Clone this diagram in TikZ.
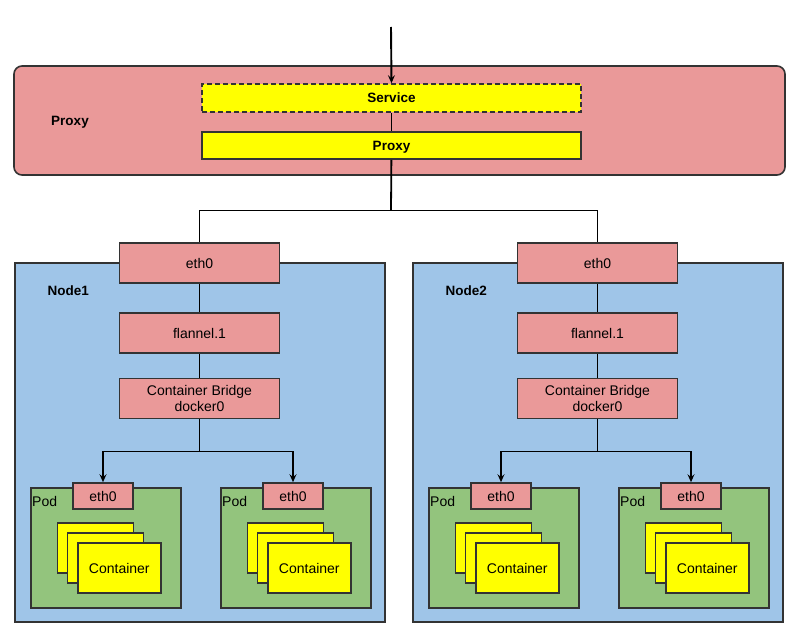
\documentclass[tikz,border=0pt]{standalone}
\usepackage{fontspec}
\setmainfont{Liberation Sans}
\usetikzlibrary{arrows.meta,positioning}

\definecolor{pinkfill}{HTML}{EA9999}
\definecolor{bluefill}{HTML}{9FC5E8}
\definecolor{greenfill}{HTML}{93C47D}
\definecolor{yellowfill}{HTML}{FFFF00}
\definecolor{edgegray}{HTML}{333333}

\begin{document}
\begin{tikzpicture}[
        x=1pt, y=-1pt,
        font=\fontsize{14}{16}\selectfont,
        boldlabel/.style={font=\fontsize{13.5}{16}\selectfont\bfseries},
        frame/.style={draw=edgegray, line width=1.6pt, inner sep=0pt},
        iface/.style={frame, fill=pinkfill, minimum width=160pt, minimum height=40pt, align=center},
        ybar/.style={frame, fill=yellowfill, minimum width=379pt, minimum height=27pt, boldlabel},
        host/.style={frame, fill=bluefill, minimum width=370pt, minimum height=359pt},
        pod/.style={frame, fill=greenfill, minimum width=150pt, minimum height=120pt},
        podeth/.style={frame, fill=pinkfill, minimum width=60pt, minimum height=26pt},
        ctr/.style={frame, fill=yellowfill, minimum width=76pt, minimum height=50pt},
        wire/.style={line width=1.8pt},
        arrow/.style={-{Stealth[length=8pt,width=7pt,inset=3pt]}, line width=1.9pt}
        ]
        \useasboundingbox (0,0) rectangle (805,642);
        % --- offsets (tune if needed) ---
        \def\dx{398}   % shift of Node2 against Node1
        \def\dp{190}   % shift of the second pod

        % Proxy band
        \node[frame, fill=pinkfill, rounded corners=8pt, minimum width=771pt, minimum height=109pt] (proxyband) at (399.5,120.5) {};
        \node[boldlabel] (proxylabel) at (70,120.5) {Proxy};
        \node[ybar, dashed, dash pattern=on 5pt off 3pt, minimum height=28pt] (service) at (391.5,98) {Service};
        \node[ybar] (proxy) at (391.5,145.5) {Proxy};
        \coordinate (entry) at (391,27);
        \coordinate (split) at (391,210.5);

        % Hosts
        \foreach \n/\ox in {1/0, 2/\dx} {
            \node[host] (host\n) at (200+\ox,442.5) {};
            \node[boldlabel] (hostlabel\n) at (68.3+\ox,291) {Node\n};
            \node[iface] (eth\n) at (199.5+\ox,263) {eth0};
            \node[iface] (flannel\n) at (199.5+\ox,333) {flannel.1};
            \node[iface] (bridge\n) at (199.5+\ox,398.5) {Container Bridge\\docker0};
            \coordinate (fork\n) at (199.5+\ox,451.5);

            % two pods per host
            \foreach \p/\op in {a/0, b/\dp} {
                \node[pod] (pod\n\p) at (106+\ox+\op,547.7) {};
                \node[anchor=west, inner sep=0pt] (podlabel\n\p) at (32+\ox+\op,501.5) {Pod};
                \node[podeth] (podeth\n\p) at (103+\ox+\op,496) {eth0};
                \node[ctr] (ctrback\n\p) at (95.5+\ox+\op,547.7) {};
                \node[ctr] (ctrmid\n\p) at (105.5+\ox+\op,557.7) {};
                \node[ctr, minimum width=83pt] (ctr\n\p) at (119.3+\ox+\op,568) {Container};
                \draw[arrow] (fork\n) -| (podeth\n\p.north);
            }

            \draw[wire] (eth\n) -- (flannel\n);
            \draw[wire] (flannel\n) -- (bridge\n);
            \draw[arrow, -] (bridge\n) -- (fork\n);
            \draw[wire] (split) -| (eth\n.north);
        }

        % Arrows
        \draw[arrow] (entry) -- (service.north);
        \draw[wire] (service) -- (proxy);
        \draw[wire] (proxy) -- (split);

    \end{tikzpicture}
\end{document}
